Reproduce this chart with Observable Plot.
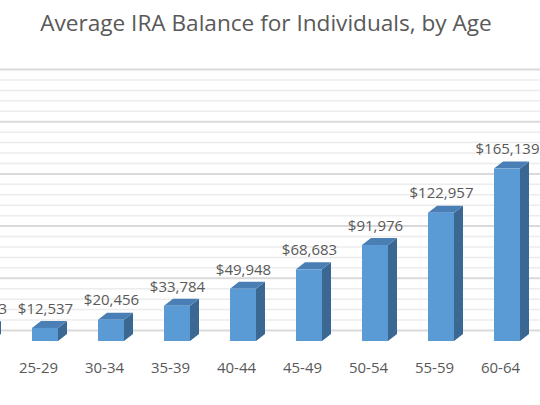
<!DOCTYPE html>
<html>
<head>
<meta charset="utf-8">
<script src="https://cdn.jsdelivr.net/npm/d3@7"></script>
<script src="https://cdn.jsdelivr.net/npm/@observablehq/plot@0.6"></script>
<style>
  html, body { margin: 0; padding: 0; background: #fff; }
  #wrap { width: 540px; height: 405px; overflow: hidden; position: relative; font-family: "Open Sans", sans-serif; }
  #title { height: 45px; line-height: 46px; text-align: center; font-size: 22.6px; color: #595959; padding-right: 8px; white-space: nowrap; }
  #wrap svg { overflow: hidden; display: block; }
</style>
</head>
<body>
<div id="wrap">
  <div id="title">Average IRA Balance for Individuals, by Age</div>
  <div id="chart"></div>
</div>
<script>
const ages = ["20-24","25-29","30-34","35-39","40-44","45-49","50-54","55-59","60-64","65-69"];
const balances = [12483, 12537, 20456, 33784, 49948, 68683, 91976, 122957, 165139, 213481];
const labels = ["$12,483","$12,537","$20,456","$33,784","$49,948","$68,683","$91,976","$122,957","$165,139","$213,481"];
const majorTicks = [0, 50000, 100000, 150000, 200000, 250000];
const minorTicks = d3.range(0, 250001, 10000).filter(v => !majorTicks.includes(v));

const data = ages.map((age, i) => ({age, value: balances[i], label: labels[i]}));

const inset = 20, depthX = 9, depthY = 7;

const chart = Plot.plot({
  width: 540,
  height: 360,
  marginLeft: 0,
  marginRight: 0,
  marginTop: 35,
  marginBottom: 64,
  style: {fontFamily: "'Open Sans', sans-serif", background: "#fff"},
  x: {type: "band", domain: ages, range: [-54, 606], padding: 0, axis: null, label: null},
  y: {domain: [0, 250000], axis: null},
  marks: [
    Plot.ruleY(minorTicks, {stroke: "#ececec", strokeWidth: 1.5, dy: -11}),
    Plot.ruleY(majorTicks, {stroke: "#d9d9d9", strokeWidth: 2, dy: -11}),
    Plot.barY(data, {
      x: "age", y: "value",
      render(index, scales, values) {
        const g = d3.create("svg:g");
        const bw = scales.x.bandwidth ? scales.x.bandwidth() : 66;
        for (const i of index) {
          const xl = values.x[i] + inset, xr = values.x[i] + bw - inset;
          const yt = Math.min(values.y1[i], values.y2[i]);
          const yb = Math.max(values.y1[i], values.y2[i]);
          g.append("polygon")
            .attr("points", [[xr, yt], [xr + depthX, yt - depthY], [xr + depthX, yb - depthY], [xr, yb]].join(" "))
            .attr("fill", "#3b6793");
          g.append("polygon")
            .attr("points", [[xl, yt], [xl + depthX, yt - depthY], [xr + depthX, yt - depthY], [xr, yt]].join(" "))
            .attr("fill", "#4a7fb6");
          g.append("rect")
            .attr("x", xl).attr("y", yt).attr("width", xr - xl).attr("height", yb - yt)
            .attr("fill", "#5b9bd5");
        }
        return g.node();
      }
    }),
    Plot.text(data, {x: "age", y: "value", text: "label", dy: -19.5, fontSize: 15, fill: "#595959", lineAnchor: "middle"}),
    Plot.axisX({tickSize: 0, tickPadding: 21, dx: -7, fontSize: 15, color: "#595959", label: null})
  ]
});
document.getElementById("chart").appendChild(chart);
</script>
</body>
</html>
